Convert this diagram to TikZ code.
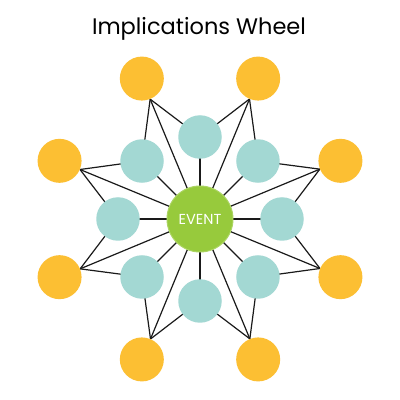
\documentclass[tikz,border=0pt]{standalone}
\usepackage{fontspec}
\newfontfamily\titlefont{Poppins}
\usetikzlibrary{backgrounds,calc}
\definecolor{wyellow}{HTML}{FCBF33}
\definecolor{wteal}{HTML}{A3D8D3}
\definecolor{wgreen}{HTML}{97CA3C}
\definecolor{wline}{HTML}{1A1A1A}
\tikzset{
  ybubble/.style={circle,fill=wyellow,minimum size=44pt,inner sep=0pt},
  tbubble/.style={circle,fill=wteal,minimum size=43.5pt,inner sep=0pt},
  ebubble/.style={circle,fill=wgreen,draw=wgreen!80!white,line width=1pt,minimum size=66pt,inner sep=0pt,text=white,font=\titlefont\fontsize{14.5}{14.5}\selectfont},
  link/.style={draw=wline,line width=1.2pt}
}
\begin{document}
\begin{tikzpicture}[x=1pt,y=1pt]
\useasboundingbox (0,0) rectangle (400,400);
\node[anchor=base,font=\titlefont\fontsize{22.5}{22.5}\selectfont] (title) at (199,365) {Implications Wheel};
\coordinate (c) at (200,181);
\node[ebubble] (ev) at (c) {EVENT};
\foreach \k in {0,...,7} {
  \node[tbubble] (t\k) at ($(c)+(\k*45:82)$) {};
  \node[ybubble] (y\k) at ($(c)+(\k*45+22.5:152)$) {};
}
\begin{pgfonlayer}{background}
\fill[white] (0,0) rectangle (400,400);
\foreach \k [evaluate=\k as \n using {int(mod(\k+1,8))}, evaluate=\k as \a using {\k*45+22.5+180}] in {0,...,7} {
  \path[link] (ev.center) -- (t\k.center);
  \path[link] (y\k.\a) -- (t\k.center);
  \path[link] (y\k.\a) -- (t\n.center);
  \path[link] (y\k.\a) -- (ev.center);
}
\end{pgfonlayer}
\end{tikzpicture}
\end{document}
